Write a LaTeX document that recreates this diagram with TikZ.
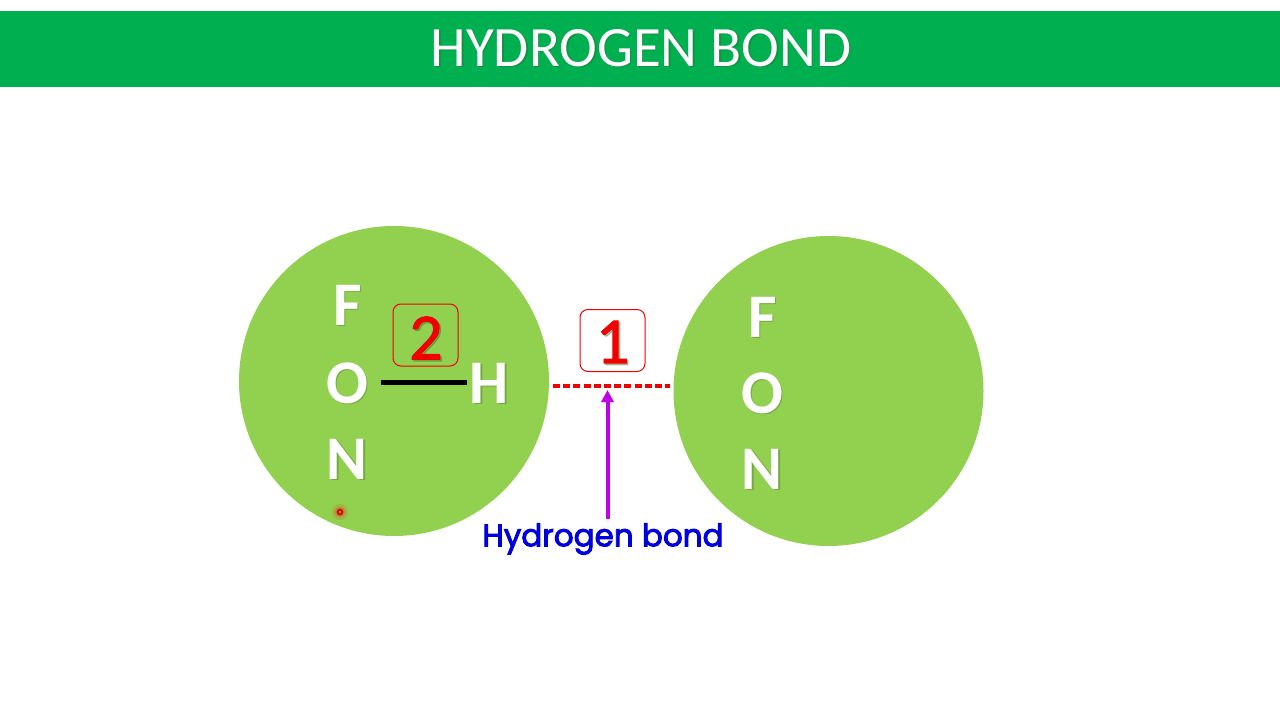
\documentclass[tikz,border=0pt]{standalone}
\usepackage{fontspec}
\setmainfont{Carlito}
\newfontfamily\labelfont[FakeBold=3]{Poppins}
\newfontfamily\digitfont[FakeBold=1.5]{Carlito}
\definecolor{bargreen}{HTML}{00AF50}
\definecolor{ballgreen}{HTML}{92D050}
\definecolor{shade}{HTML}{3A5A20}
\definecolor{bondred}{HTML}{F00000}
\definecolor{arrowpurple}{HTML}{C000E8}
\definecolor{labelblue}{HTML}{0000DD}
\usetikzlibrary{arrows.meta}
\newcommand{\shadowtext}[5]{%
  \node[text=shade,opacity=.32,font=#3] at ([shift={(1.6,1.6)}]#2) {#4};
  \node[text=#5,font=#3] (#1) at (#2) {#4};}
\tikzset{
  ball/.style={circle,fill=ballgreen,minimum size=310,inner sep=0},
  numbox/.style={draw=bondred,rounded corners=8,line width=1,minimum width=65,minimum height=62,inner sep=0},
}
\begin{document}
\begin{tikzpicture}[x=1pt,y=-1pt,inner sep=0]
\useasboundingbox (0,0) rectangle (1280,720);
\fill[white] (0,0) rectangle (1280,720);
\node[fill=bargreen,minimum width=1280,minimum height=76,anchor=north west] (bar) at (0,11) {};
\shadowtext{title}{641,48}{\fontsize{57}{57}\selectfont}{HYDROGEN BOND}{white}
\node[ball] (left) at (394,381) {};
\node[ball] (right) at (828.5,391) {};
\def\af{\fontsize{62}{62}\selectfont\bfseries}
\shadowtext{f1}{347.5,305}{\af}{F}{white}
\shadowtext{o1}{347,383}{\af}{O}{white}
\shadowtext{n1}{347,459}{\af}{N}{white}
\shadowtext{h1}{489,383}{\af}{H}{white}
\shadowtext{f2}{762.5,317}{\af}{F}{white}
\shadowtext{o2}{762,393}{\af}{O}{white}
\shadowtext{n2}{762,469}{\af}{N}{white}
\draw[black,line width=5] (o1.center) ++(33.5,-0.5) coordinate (bs) -- (467,382.5) coordinate (be);
\node[numbox] (b2) at (425.5,335) {};
\node[numbox] (b1) at (612.5,340.5) {};
\def\nf{\digitfont\fontsize{66}{66}\selectfont}
\shadowtext{two}{426,338}{\nf}{2}{bondred}
\shadowtext{one}{612.5,342}{\nf}{1}{bondred}
\coordinate (dl) at (553,386);
\coordinate (dr) at (670,386);
\draw[bondred,line width=3.2,dash pattern=on 7 off 3.2] (dl) -- (dr);
\node[text=labelblue,font=\labelfont\fontsize{31}{31}\selectfont] (hb) at (603,539) {Hydrogen bond};
\coordinate (at) at (607.5,390);
\draw[arrowpurple,line width=4,-{Triangle[length=12,width=12]}] (607.5,519) -- (at);
\fill[red,opacity=.12] (340,512) circle (8);
\fill[red,opacity=.2] (340,512) circle (5.5);
\draw[red!90!black,line width=1.8,fill=red!35!ballgreen] (340,512) circle (2.4);
\end{tikzpicture}
\end{document}
